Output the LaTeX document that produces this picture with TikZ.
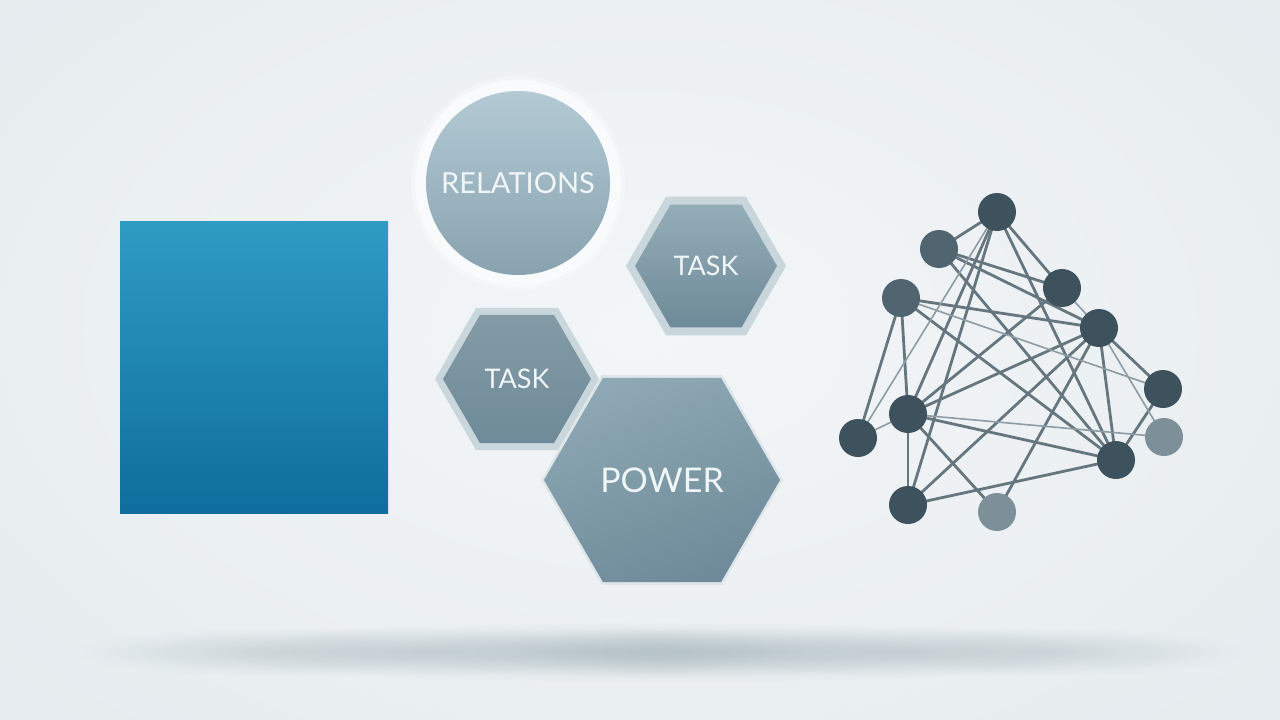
\documentclass[tikz,border=0pt]{standalone}
\usepackage{fontspec}
\setmainfont{Lato}
\usetikzlibrary{shapes.geometric,fadings}
\pgfdeclarelayer{back}
\pgfdeclarelayer{edges}
\pgfsetlayers{back,edges,main}
\definecolor{bgbase}{HTML}{E6ECEF}
\definecolor{shc}{HTML}{A3B3B9}
\definecolor{sqtop}{HTML}{2F9CC4}
\definecolor{sqbot}{HTML}{0E6D9C}
\definecolor{circtop}{HTML}{B3CAD4}
\definecolor{circbot}{HTML}{88A2AF}
\definecolor{halo}{HTML}{F8FAFB}
\definecolor{hexrim}{HTML}{C9D6DC}
\definecolor{hextop}{HTML}{8EA9B5}
\definecolor{hexbot}{HTML}{6F8A98}
\definecolor{labelc}{HTML}{F0F5F7}
\definecolor{dotdark}{HTML}{3E525D}
\definecolor{dotmid}{HTML}{506570}
\definecolor{dotlight}{HTML}{7D9099}
\definecolor{edgec}{HTML}{66767F}
\definecolor{edgethin}{HTML}{8D9CA4}
\tikzfading[name=softfade, inner color=transparent!0, outer color=transparent!100]
\begin{document}
\begin{tikzpicture}[x=1pt,y=-1pt,
  hexrimstyle/.style={regular polygon, regular polygon sides=6, inner sep=0pt, fill=hexrim, draw=none},
  hexstyle/.style={regular polygon, regular polygon sides=6, inner sep=0pt, top color=hextop, bottom color=hexbot, draw=none, text=labelc},
  dot/.style={circle, minimum size=38pt, inner sep=0pt, fill=dotdark},
  dotm/.style={dot, fill=dotmid},
  dotl/.style={dot, fill=dotlight},
  link/.style={draw=edgec, line width=2.8pt},
  linkthin/.style={draw=edgethin, line width=1.6pt},
  shadowblob/.style={fill=shc, path fading=softfade, fit fading=true},
  bigtext/.style={font=\fontsize{29}{32}\selectfont},
  midtext/.style={font=\fontsize{27}{30}\selectfont},
  powtext/.style={font=\fontsize{34}{38}\selectfont}]
\useasboundingbox (0,0) rectangle (1280,720);
\begin{pgfonlayer}{back}
  \fill[bgbase] (0,0) rectangle (1280,720);
  \begin{scope}
    \clip (0,0) rectangle (1280,720);
    \fill[white, path fading=softfade, fit fading=true, opacity=0.55] (640,330) ellipse (900 and 560);
    \fill[shadowblob, opacity=0.45] (661,652) ellipse (560 and 30);
    \foreach \cx in {260,420,580,740,900,1060}
      \fill[shadowblob, opacity=0.28] (\cx,652) ellipse (190 and 24);
    \fill[shadowblob, opacity=0.3] (655,652) ellipse (150 and 26);
  \end{scope}
\end{pgfonlayer}

% blue square
\node[rectangle, minimum width=268pt, minimum height=292pt, inner sep=0pt,
      top color=sqtop, bottom color=sqbot] (sq) at (254,367) {};

% relations circle
\node[circle, minimum size=214pt, inner sep=0pt, fill=halo, opacity=0.5] (relhalo2) at (518,183) {};
\node[circle, minimum size=206pt, inner sep=0pt, fill=halo] (relhalo) at (518,183) {};
\node[circle, minimum size=184pt, inner sep=0pt, top color=circtop, bottom color=circbot,
      text=labelc, bigtext] (rel) at (518,183) {RELATIONS};

% task right
\node[hexrimstyle, minimum size=160pt] (taskArim) at (706,266) {};
\node[hexstyle, minimum size=142pt, top color=hextop!95!white, midtext] (taskA) at (706,266) {TASK};

% task left
\node[hexrimstyle, minimum size=164pt] (taskBrim) at (517,379) {};
\node[hexstyle, minimum size=148pt, top color=hextop!92!black, midtext] (taskB) at (517,379) {TASK};

% power
\node[hexrimstyle, minimum size=242pt, fill=hexrim!60!white] (powrim) at (662,480) {};
\node[hexstyle, minimum size=236pt, shading angle=20, powtext] (power) at (662,480) {POWER};

% network
\node[dot]  (n1)  at (997,212) {};
\node[dotm] (n2)  at (939,249) {};
\node[dot]  (n3)  at (1062,288) {};
\node[dotm] (n4)  at (901,298) {};
\node[dot]  (n5)  at (1099,328) {};
\node[dot]  (n6)  at (1163,389) {};
\node[dotl] (n7)  at (1164,437) {};
\node[dot]  (n8)  at (908,414) {};
\node[dot]  (n9)  at (858,438) {};
\node[dot]  (n10) at (1116,460) {};
\node[dot]  (n11) at (908,505) {};
\node[dotl] (n12) at (997,512) {};

\begin{pgfonlayer}{edges}
  \foreach \a/\b in {n1/n2,n1/n3,n1/n8,n1/n11,n1/n10,n2/n3,n2/n5,n2/n10,
                     n4/n9,n4/n8,n4/n5,n4/n10,n3/n8,n5/n6,n5/n8,n5/n11,
                     n5/n12,n5/n10,n6/n10,n8/n10,n8/n11,n8/n12,n11/n10}
    \draw[link] (\a.center) -- (\b.center);
  \foreach \a/\b in {n9/n1,n9/n8,n5/n7,n8/n7,n4/n6,n3/n5}
    \draw[linkthin] (\a.center) -- (\b.center);
\end{pgfonlayer}
\end{tikzpicture}
\end{document}
